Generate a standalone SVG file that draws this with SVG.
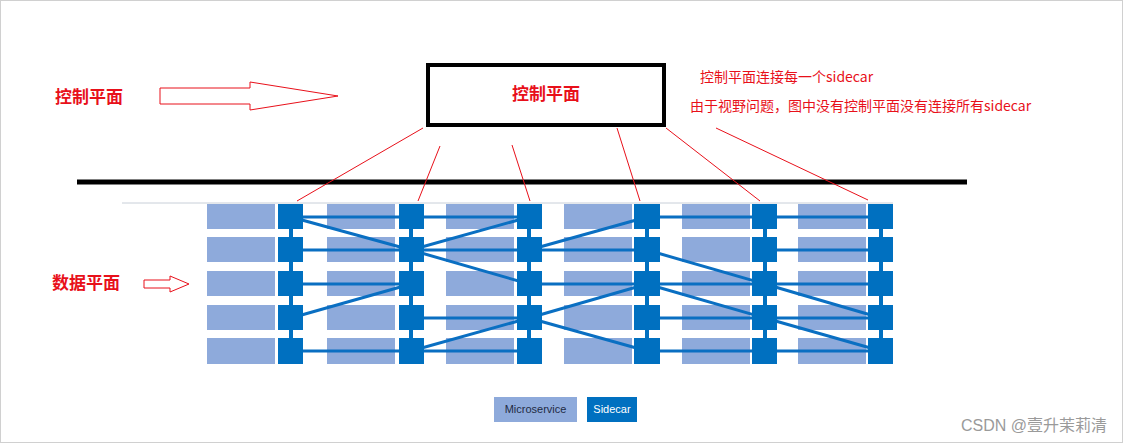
<svg xmlns="http://www.w3.org/2000/svg" width="1123" height="443" viewBox="0 0 1123 443">
<style>
.ms{fill:#8eaadb}.sc{fill:#0070c0}.ln{stroke:#0a6fc2;stroke-width:3;fill:none}.rd{stroke:#e8101a;stroke-width:1}
.t{font-family:"Microsoft YaHei","Noto Sans CJK SC",sans-serif;fill:#e8101a}
</style>
<rect x="0.5" y="0.5" width="1122" height="442" fill="#fff" stroke="#d0d0d0"/>
<g id="label-control"><text class="t" x="55" y="103" font-size="17" font-weight="bold">控制平面</text>
<polygon points="160,88 250,88 250,82 338,96 250,110 250,104 160,104" fill="#fff" stroke="#e8101a"/></g>
<g id="control-plane"><rect x="428" y="65" width="236" height="60" fill="#fff" stroke="#000" stroke-width="4"/>
<text class="t" x="546" y="100" font-size="17" font-weight="bold" text-anchor="middle">控制平面</text></g>
<g id="notes"><text class="t" x="700" y="82" font-size="14">控制平面连接每一个sidecar</text>
<text class="t" x="690" y="111" font-size="14">由于视野问题，图中没有控制平面没有连接所有sidecar</text></g>
<line x1="77" y1="182" x2="967" y2="182" stroke="#000" stroke-width="5"/>
<line x1="122" y1="203" x2="893" y2="203" stroke="#c8cfd8" stroke-width="1"/>
<g id="label-data"><text class="t" x="52" y="289" font-size="17" font-weight="bold">数据平面</text>
<polygon points="144,280 170,280 170,276 189,284 170,292 170,288 144,288" fill="#fff" stroke="#e8101a"/></g>
<g id="microservices" class="ms">
<rect x="207" y="204" width="68" height="25"/><rect x="207" y="237" width="68" height="25"/><rect x="207" y="271" width="68" height="25"/><rect x="207" y="305" width="68" height="25"/><rect x="207" y="338" width="68" height="26"/>
<rect x="327" y="204" width="68" height="25"/><rect x="327" y="237" width="68" height="25"/><rect x="327" y="271" width="68" height="25"/><rect x="327" y="305" width="68" height="25"/><rect x="327" y="338" width="68" height="26"/>
<rect x="446" y="204" width="68" height="25"/><rect x="446" y="237" width="68" height="25"/><rect x="446" y="271" width="68" height="25"/><rect x="446" y="305" width="68" height="25"/><rect x="446" y="338" width="68" height="26"/>
<rect x="564" y="204" width="68" height="25"/><rect x="564" y="237" width="68" height="25"/><rect x="564" y="271" width="68" height="25"/><rect x="564" y="305" width="68" height="25"/><rect x="564" y="338" width="68" height="26"/>
<rect x="682" y="204" width="68" height="25"/><rect x="682" y="237" width="68" height="25"/><rect x="682" y="271" width="68" height="25"/><rect x="682" y="305" width="68" height="25"/><rect x="682" y="338" width="68" height="26"/>
<rect x="798" y="204" width="68" height="25"/><rect x="798" y="237" width="68" height="25"/><rect x="798" y="271" width="68" height="25"/><rect x="798" y="305" width="68" height="25"/><rect x="798" y="338" width="68" height="26"/>
</g>
<g id="connectors">
<g class="rd"><line x1="423" y1="128" x2="297" y2="201"/><line x1="440" y1="146" x2="418" y2="201"/><line x1="512" y1="145" x2="530" y2="201"/><line x1="617" y1="128" x2="640" y2="201"/><line x1="666" y1="128" x2="760" y2="201"/><line x1="716" y1="128" x2="868" y2="200"/></g>
<g stroke="#0070c0" stroke-width="4"><line x1="291" y1="217" x2="291" y2="351"/><line x1="411" y1="217" x2="411" y2="351"/><line x1="529" y1="217" x2="529" y2="351"/><line x1="647" y1="217" x2="647" y2="351"/><line x1="765" y1="217" x2="765" y2="351"/><line x1="881" y1="217" x2="881" y2="351"/></g>
<path class="ln" d="M291 217H411M291 217L411 250M291 250H411M291 284H411M291 318L411 284M291 351H411
M411 217H529M411 250L529 217M411 250H529M411 250L529 284M411 318H529M411 351L529 318M411 351H529
M529 250L647 217M529 250H647M529 284H647M529 318L647 284M529 318L647 351
M647 217H765M647 250L765 284M647 284H765M647 284L765 318M647 318H765M647 351H765
M765 217H881M765 250H881M765 284H881M765 284L881 318M765 318H881M765 318L881 351M765 351H881"/>
</g>
<g id="sidecars" class="sc">
<rect x="278" y="204" width="25" height="25"/><rect x="278" y="237" width="25" height="25"/><rect x="278" y="271" width="25" height="25"/><rect x="278" y="305" width="25" height="25"/><rect x="278" y="338" width="25" height="26"/>
<rect x="399" y="204" width="25" height="25"/><rect x="399" y="237" width="25" height="25"/><rect x="399" y="271" width="25" height="25"/><rect x="399" y="305" width="25" height="25"/><rect x="399" y="338" width="25" height="26"/>
<rect x="517" y="204" width="25" height="25"/><rect x="517" y="237" width="25" height="25"/><rect x="517" y="271" width="25" height="25"/><rect x="517" y="305" width="25" height="25"/><rect x="517" y="338" width="25" height="26"/>
<rect x="634" y="204" width="26" height="25"/><rect x="634" y="237" width="26" height="25"/><rect x="634" y="271" width="26" height="25"/><rect x="634" y="305" width="26" height="25"/><rect x="634" y="338" width="26" height="26"/>
<rect x="752" y="204" width="25" height="25"/><rect x="752" y="237" width="25" height="25"/><rect x="752" y="271" width="25" height="25"/><rect x="752" y="305" width="25" height="25"/><rect x="752" y="338" width="25" height="26"/>
<rect x="868" y="204" width="25" height="25"/><rect x="868" y="237" width="25" height="25"/><rect x="868" y="271" width="25" height="25"/><rect x="868" y="305" width="25" height="25"/><rect x="868" y="338" width="25" height="26"/>
</g>
<g id="legend" font-family="Liberation Sans,sans-serif" font-size="11">
<rect x="494" y="397" width="83" height="25" class="ms"/><text x="535.5" y="413" text-anchor="middle" fill="#1f2a44">Microservice</text>
<rect x="587" y="397" width="50" height="25" class="sc"/><text x="612" y="413" text-anchor="middle" fill="#fff">Sidecar</text>
</g>
<text x="1107" y="431" text-anchor="end" font-family="Liberation Sans,'Noto Sans CJK SC',sans-serif" font-size="16" fill="#9a9a9a">CSDN @壹升茉莉清</text>
</svg>
